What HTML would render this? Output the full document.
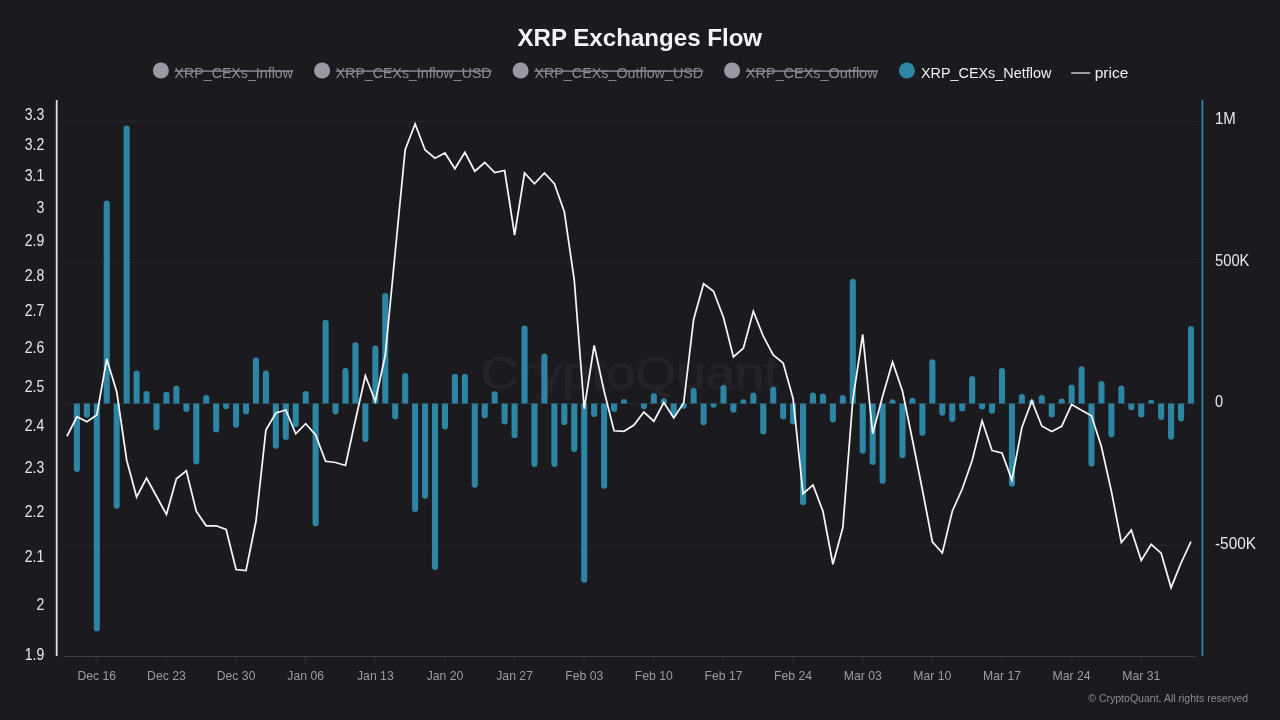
<!DOCTYPE html><html><head><meta charset="utf-8"><style>html,body{margin:0;padding:0;background:#1b1a1f;width:1280px;height:720px;overflow:hidden}</style></head><body><svg width="1280" height="720" viewBox="0 0 1280 720" style="display:block;will-change:transform">
<rect width="1280" height="720" fill="#1b1a1f"/>
<text x="517.5" y="45.7" font-family="'Liberation Sans', sans-serif" font-weight="bold" font-size="24" fill="#f4f4f6" textLength="244.6" lengthAdjust="spacingAndGlyphs">XRP Exchanges Flow</text>
<circle cx="160.9" cy="70.5" r="8" fill="#9a99a3"/>
<text x="174.5" y="77.6" font-family="'Liberation Sans', sans-serif" font-size="15.2" fill="#8d8c96" textLength="118.5" lengthAdjust="spacingAndGlyphs">XRP_CEXs_Inflow</text>
<rect x="174.5" y="70.4" width="118.5" height="1.4" fill="#8d8c96"/>
<circle cx="322.1" cy="70.5" r="8" fill="#9a99a3"/>
<text x="335.8" y="77.6" font-family="'Liberation Sans', sans-serif" font-size="15.2" fill="#8d8c96" textLength="155.8" lengthAdjust="spacingAndGlyphs">XRP_CEXs_Inflow_USD</text>
<rect x="335.8" y="70.4" width="155.8" height="1.4" fill="#8d8c96"/>
<circle cx="520.6" cy="70.5" r="8" fill="#9a99a3"/>
<text x="534.4" y="77.6" font-family="'Liberation Sans', sans-serif" font-size="15.2" fill="#8d8c96" textLength="168.8" lengthAdjust="spacingAndGlyphs">XRP_CEXs_Outflow_USD</text>
<rect x="534.4" y="70.4" width="168.8" height="1.4" fill="#8d8c96"/>
<circle cx="732.1" cy="70.5" r="8" fill="#9a99a3"/>
<text x="745.8" y="77.6" font-family="'Liberation Sans', sans-serif" font-size="15.2" fill="#8d8c96" textLength="131.8" lengthAdjust="spacingAndGlyphs">XRP_CEXs_Outflow</text>
<rect x="745.8" y="70.4" width="131.8" height="1.4" fill="#8d8c96"/>
<circle cx="906.9" cy="70.5" r="8" fill="#2c85a3"/>
<text x="920.9" y="77.6" font-family="'Liberation Sans', sans-serif" font-size="15.2" fill="#f0f0f2" textLength="130.4" lengthAdjust="spacingAndGlyphs">XRP_CEXs_Netflow</text>
<rect x="1071.2" y="72.4" width="19" height="1.2" fill="#f0f0f2"/>
<text x="1094.7" y="77.6" font-family="'Liberation Sans', sans-serif" font-size="15.2" fill="#f0f0f2" textLength="33.6" lengthAdjust="spacingAndGlyphs">price</text>
<text x="480.5" y="388.8" font-family="'Liberation Sans', sans-serif" font-size="46" fill="#242329" stroke="#242329" stroke-width="1.2" textLength="298" lengthAdjust="spacingAndGlyphs">CryptoQuant</text>
<rect x="63" y="121.0" width="1133" height="1" fill="#27262c"/>
<rect x="63" y="262.0" width="1133" height="1" fill="#27262c"/>
<rect x="63" y="403.0" width="1133" height="1" fill="#27262c"/>
<rect x="63" y="544.7" width="1133" height="1" fill="#27262c"/>
<path d="M73.87,403.5 L73.87,469.00 A3.05,3.05 0 0 0 79.97,469.00 L79.97,403.5 Z" fill="#2c85a3"/>
<path d="M83.82,403.5 L83.82,414.75 A3.05,3.05 0 0 0 89.92,414.75 L89.92,403.5 Z" fill="#2c85a3"/>
<path d="M93.76,403.5 L93.76,628.50 A3.05,3.05 0 0 0 99.86,628.50 L99.86,403.5 Z" fill="#2c85a3"/>
<path d="M103.71,403.5 L103.71,203.50 A3.05,3.05 0 0 1 109.81,203.50 L109.81,403.5 Z" fill="#2c85a3"/>
<path d="M113.66,403.5 L113.66,505.75 A3.05,3.05 0 0 0 119.76,505.75 L119.76,403.5 Z" fill="#2c85a3"/>
<path d="M123.61,403.5 L123.61,128.50 A3.05,3.05 0 0 1 129.71,128.50 L129.71,403.5 Z" fill="#2c85a3"/>
<path d="M133.55,403.5 L133.55,373.50 A3.05,3.05 0 0 1 139.65,373.50 L139.65,403.5 Z" fill="#2c85a3"/>
<path d="M143.50,403.5 L143.50,394.00 A3.05,3.05 0 0 1 149.60,394.00 L149.60,403.5 Z" fill="#2c85a3"/>
<path d="M153.45,403.5 L153.45,427.25 A3.05,3.05 0 0 0 159.55,427.25 L159.55,403.5 Z" fill="#2c85a3"/>
<path d="M163.39,403.5 L163.39,394.75 A3.05,3.05 0 0 1 169.49,394.75 L169.49,403.5 Z" fill="#2c85a3"/>
<path d="M173.34,403.5 L173.34,388.50 A3.05,3.05 0 0 1 179.44,388.50 L179.44,403.5 Z" fill="#2c85a3"/>
<path d="M183.29,403.5 L183.29,409.00 A3.05,3.05 0 0 0 189.39,409.00 L189.39,403.5 Z" fill="#2c85a3"/>
<path d="M193.23,403.5 L193.23,461.50 A3.05,3.05 0 0 0 199.33,461.50 L199.33,403.5 Z" fill="#2c85a3"/>
<path d="M203.18,403.5 L203.18,398.00 A3.05,3.05 0 0 1 209.28,398.00 L209.28,403.5 Z" fill="#2c85a3"/>
<path d="M213.13,403.5 L213.13,429.50 A3.05,3.05 0 0 0 219.23,429.50 L219.23,403.5 Z" fill="#2c85a3"/>
<path d="M223.08,403.5 L223.08,406.15 A2.65,2.65 0 0 0 229.18,406.15 L229.18,403.5 Z" fill="#2c85a3"/>
<path d="M233.02,403.5 L233.02,424.75 A3.05,3.05 0 0 0 239.12,424.75 L239.12,403.5 Z" fill="#2c85a3"/>
<path d="M242.97,403.5 L242.97,411.50 A3.05,3.05 0 0 0 249.07,411.50 L249.07,403.5 Z" fill="#2c85a3"/>
<path d="M252.92,403.5 L252.92,360.50 A3.05,3.05 0 0 1 259.02,360.50 L259.02,403.5 Z" fill="#2c85a3"/>
<path d="M262.86,403.5 L262.86,373.50 A3.05,3.05 0 0 1 268.96,373.50 L268.96,403.5 Z" fill="#2c85a3"/>
<path d="M272.81,403.5 L272.81,445.75 A3.05,3.05 0 0 0 278.91,445.75 L278.91,403.5 Z" fill="#2c85a3"/>
<path d="M282.76,403.5 L282.76,437.00 A3.05,3.05 0 0 0 288.86,437.00 L288.86,403.5 Z" fill="#2c85a3"/>
<path d="M292.70,403.5 L292.70,424.00 A3.05,3.05 0 0 0 298.80,424.00 L298.80,403.5 Z" fill="#2c85a3"/>
<path d="M302.65,403.5 L302.65,394.00 A3.05,3.05 0 0 1 308.75,394.00 L308.75,403.5 Z" fill="#2c85a3"/>
<path d="M312.60,403.5 L312.60,523.25 A3.05,3.05 0 0 0 318.70,523.25 L318.70,403.5 Z" fill="#2c85a3"/>
<path d="M322.55,403.5 L322.55,322.75 A3.05,3.05 0 0 1 328.65,322.75 L328.65,403.5 Z" fill="#2c85a3"/>
<path d="M332.49,403.5 L332.49,411.50 A3.05,3.05 0 0 0 338.59,411.50 L338.59,403.5 Z" fill="#2c85a3"/>
<path d="M342.44,403.5 L342.44,371.00 A3.05,3.05 0 0 1 348.54,371.00 L348.54,403.5 Z" fill="#2c85a3"/>
<path d="M352.39,403.5 L352.39,345.25 A3.05,3.05 0 0 1 358.49,345.25 L358.49,403.5 Z" fill="#2c85a3"/>
<path d="M362.33,403.5 L362.33,439.00 A3.05,3.05 0 0 0 368.43,439.00 L368.43,403.5 Z" fill="#2c85a3"/>
<path d="M372.28,403.5 L372.28,348.50 A3.05,3.05 0 0 1 378.38,348.50 L378.38,403.5 Z" fill="#2c85a3"/>
<path d="M382.23,403.5 L382.23,296.00 A3.05,3.05 0 0 1 388.33,296.00 L388.33,403.5 Z" fill="#2c85a3"/>
<path d="M392.17,403.5 L392.17,416.50 A3.05,3.05 0 0 0 398.27,416.50 L398.27,403.5 Z" fill="#2c85a3"/>
<path d="M402.12,403.5 L402.12,376.00 A3.05,3.05 0 0 1 408.22,376.00 L408.22,403.5 Z" fill="#2c85a3"/>
<path d="M412.07,403.5 L412.07,509.00 A3.05,3.05 0 0 0 418.17,509.00 L418.17,403.5 Z" fill="#2c85a3"/>
<path d="M422.02,403.5 L422.02,495.75 A3.05,3.05 0 0 0 428.12,495.75 L428.12,403.5 Z" fill="#2c85a3"/>
<path d="M431.96,403.5 L431.96,567.00 A3.05,3.05 0 0 0 438.06,567.00 L438.06,403.5 Z" fill="#2c85a3"/>
<path d="M441.91,403.5 L441.91,426.50 A3.05,3.05 0 0 0 448.01,426.50 L448.01,403.5 Z" fill="#2c85a3"/>
<path d="M451.86,403.5 L451.86,376.75 A3.05,3.05 0 0 1 457.96,376.75 L457.96,403.5 Z" fill="#2c85a3"/>
<path d="M461.80,403.5 L461.80,376.75 A3.05,3.05 0 0 1 467.90,376.75 L467.90,403.5 Z" fill="#2c85a3"/>
<path d="M471.75,403.5 L471.75,484.75 A3.05,3.05 0 0 0 477.85,484.75 L477.85,403.5 Z" fill="#2c85a3"/>
<path d="M481.70,403.5 L481.70,415.25 A3.05,3.05 0 0 0 487.80,415.25 L487.80,403.5 Z" fill="#2c85a3"/>
<path d="M491.64,403.5 L491.64,394.25 A3.05,3.05 0 0 1 497.74,394.25 L497.74,403.5 Z" fill="#2c85a3"/>
<path d="M501.59,403.5 L501.59,421.50 A3.05,3.05 0 0 0 507.69,421.50 L507.69,403.5 Z" fill="#2c85a3"/>
<path d="M511.54,403.5 L511.54,435.25 A3.05,3.05 0 0 0 517.64,435.25 L517.64,403.5 Z" fill="#2c85a3"/>
<path d="M521.49,403.5 L521.49,328.50 A3.05,3.05 0 0 1 527.59,328.50 L527.59,403.5 Z" fill="#2c85a3"/>
<path d="M531.43,403.5 L531.43,464.00 A3.05,3.05 0 0 0 537.53,464.00 L537.53,403.5 Z" fill="#2c85a3"/>
<path d="M541.38,403.5 L541.38,356.50 A3.05,3.05 0 0 1 547.48,356.50 L547.48,403.5 Z" fill="#2c85a3"/>
<path d="M551.33,403.5 L551.33,464.00 A3.05,3.05 0 0 0 557.43,464.00 L557.43,403.5 Z" fill="#2c85a3"/>
<path d="M561.27,403.5 L561.27,422.25 A3.05,3.05 0 0 0 567.37,422.25 L567.37,403.5 Z" fill="#2c85a3"/>
<path d="M571.22,403.5 L571.22,449.00 A3.05,3.05 0 0 0 577.32,449.00 L577.32,403.5 Z" fill="#2c85a3"/>
<path d="M581.17,403.5 L581.17,579.75 A3.05,3.05 0 0 0 587.27,579.75 L587.27,403.5 Z" fill="#2c85a3"/>
<path d="M591.11,403.5 L591.11,414.00 A3.05,3.05 0 0 0 597.21,414.00 L597.21,403.5 Z" fill="#2c85a3"/>
<path d="M601.06,403.5 L601.06,485.75 A3.05,3.05 0 0 0 607.16,485.75 L607.16,403.5 Z" fill="#2c85a3"/>
<path d="M611.01,403.5 L611.01,409.00 A3.05,3.05 0 0 0 617.11,409.00 L617.11,403.5 Z" fill="#2c85a3"/>
<path d="M620.96,403.5 L620.96,401.98 A1.53,1.53 0 0 1 627.06,401.98 L627.06,403.5 Z" fill="#2c85a3"/>
<path d="M640.85,403.5 L640.85,406.15 A2.65,2.65 0 0 0 646.95,406.15 L646.95,403.5 Z" fill="#2c85a3"/>
<path d="M650.80,403.5 L650.80,396.00 A3.05,3.05 0 0 1 656.90,396.00 L656.90,403.5 Z" fill="#2c85a3"/>
<path d="M660.74,403.5 L660.74,401.35 A2.15,2.15 0 0 1 666.84,401.35 L666.84,403.5 Z" fill="#2c85a3"/>
<path d="M670.69,403.5 L670.69,414.00 A3.05,3.05 0 0 0 676.79,414.00 L676.79,403.5 Z" fill="#2c85a3"/>
<path d="M680.64,403.5 L680.64,405.65 A2.15,2.15 0 0 0 686.74,405.65 L686.74,403.5 Z" fill="#2c85a3"/>
<path d="M690.58,403.5 L690.58,391.00 A3.05,3.05 0 0 1 696.68,391.00 L696.68,403.5 Z" fill="#2c85a3"/>
<path d="M700.53,403.5 L700.53,422.25 A3.05,3.05 0 0 0 706.63,422.25 L706.63,403.5 Z" fill="#2c85a3"/>
<path d="M710.48,403.5 L710.48,404.65 A1.15,1.15 0 0 0 716.58,404.65 L716.58,403.5 Z" fill="#2c85a3"/>
<path d="M720.43,403.5 L720.43,388.00 A3.05,3.05 0 0 1 726.53,388.00 L726.53,403.5 Z" fill="#2c85a3"/>
<path d="M730.37,403.5 L730.37,409.75 A3.05,3.05 0 0 0 736.47,409.75 L736.47,403.5 Z" fill="#2c85a3"/>
<path d="M740.32,403.5 L740.32,402.25 A1.25,1.25 0 0 1 746.42,402.25 L746.42,403.5 Z" fill="#2c85a3"/>
<path d="M750.27,403.5 L750.27,395.50 A3.05,3.05 0 0 1 756.37,395.50 L756.37,403.5 Z" fill="#2c85a3"/>
<path d="M760.21,403.5 L760.21,431.50 A3.05,3.05 0 0 0 766.31,431.50 L766.31,403.5 Z" fill="#2c85a3"/>
<path d="M770.16,403.5 L770.16,389.75 A3.05,3.05 0 0 1 776.26,389.75 L776.26,403.5 Z" fill="#2c85a3"/>
<path d="M780.11,403.5 L780.11,416.50 A3.05,3.05 0 0 0 786.21,416.50 L786.21,403.5 Z" fill="#2c85a3"/>
<path d="M790.05,403.5 L790.05,421.50 A3.05,3.05 0 0 0 796.15,421.50 L796.15,403.5 Z" fill="#2c85a3"/>
<path d="M800.00,403.5 L800.00,502.25 A3.05,3.05 0 0 0 806.10,502.25 L806.10,403.5 Z" fill="#2c85a3"/>
<path d="M809.95,403.5 L809.95,395.50 A3.05,3.05 0 0 1 816.05,395.50 L816.05,403.5 Z" fill="#2c85a3"/>
<path d="M819.90,403.5 L819.90,396.50 A3.05,3.05 0 0 1 826.00,396.50 L826.00,403.5 Z" fill="#2c85a3"/>
<path d="M829.84,403.5 L829.84,419.50 A3.05,3.05 0 0 0 835.94,419.50 L835.94,403.5 Z" fill="#2c85a3"/>
<path d="M839.79,403.5 L839.79,398.00 A3.05,3.05 0 0 1 845.89,398.00 L845.89,403.5 Z" fill="#2c85a3"/>
<path d="M849.74,403.5 L849.74,281.75 A3.05,3.05 0 0 1 855.84,281.75 L855.84,403.5 Z" fill="#2c85a3"/>
<path d="M859.68,403.5 L859.68,450.75 A3.05,3.05 0 0 0 865.78,450.75 L865.78,403.5 Z" fill="#2c85a3"/>
<path d="M869.63,403.5 L869.63,462.00 A3.05,3.05 0 0 0 875.73,462.00 L875.73,403.5 Z" fill="#2c85a3"/>
<path d="M879.58,403.5 L879.58,480.75 A3.05,3.05 0 0 0 885.68,480.75 L885.68,403.5 Z" fill="#2c85a3"/>
<path d="M889.52,403.5 L889.52,402.23 A1.28,1.28 0 0 1 895.62,402.23 L895.62,403.5 Z" fill="#2c85a3"/>
<path d="M899.47,403.5 L899.47,455.25 A3.05,3.05 0 0 0 905.57,455.25 L905.57,403.5 Z" fill="#2c85a3"/>
<path d="M909.42,403.5 L909.42,400.73 A2.78,2.78 0 0 1 915.52,400.73 L915.52,403.5 Z" fill="#2c85a3"/>
<path d="M919.37,403.5 L919.37,432.75 A3.05,3.05 0 0 0 925.47,432.75 L925.47,403.5 Z" fill="#2c85a3"/>
<path d="M929.31,403.5 L929.31,362.25 A3.05,3.05 0 0 1 935.41,362.25 L935.41,403.5 Z" fill="#2c85a3"/>
<path d="M939.26,403.5 L939.26,412.75 A3.05,3.05 0 0 0 945.36,412.75 L945.36,403.5 Z" fill="#2c85a3"/>
<path d="M949.21,403.5 L949.21,419.00 A3.05,3.05 0 0 0 955.31,419.00 L955.31,403.5 Z" fill="#2c85a3"/>
<path d="M959.15,403.5 L959.15,408.45 A3.05,3.05 0 0 0 965.25,408.45 L965.25,403.5 Z" fill="#2c85a3"/>
<path d="M969.10,403.5 L969.10,379.05 A3.05,3.05 0 0 1 975.20,379.05 L975.20,403.5 Z" fill="#2c85a3"/>
<path d="M979.05,403.5 L979.05,406.55 A3.05,3.05 0 0 0 985.15,406.55 L985.15,403.5 Z" fill="#2c85a3"/>
<path d="M988.99,403.5 L988.99,410.65 A3.05,3.05 0 0 0 995.09,410.65 L995.09,403.5 Z" fill="#2c85a3"/>
<path d="M998.94,403.5 L998.94,371.05 A3.05,3.05 0 0 1 1005.04,371.05 L1005.04,403.5 Z" fill="#2c85a3"/>
<path d="M1008.89,403.5 L1008.89,483.75 A3.05,3.05 0 0 0 1014.99,483.75 L1014.99,403.5 Z" fill="#2c85a3"/>
<path d="M1018.84,403.5 L1018.84,397.15 A3.05,3.05 0 0 1 1024.94,397.15 L1024.94,403.5 Z" fill="#2c85a3"/>
<path d="M1028.78,403.5 L1028.78,402.55 A0.95,0.95 0 0 1 1034.88,402.55 L1034.88,403.5 Z" fill="#2c85a3"/>
<path d="M1038.73,403.5 L1038.73,398.15 A3.05,3.05 0 0 1 1044.83,398.15 L1044.83,403.5 Z" fill="#2c85a3"/>
<path d="M1048.68,403.5 L1048.68,414.45 A3.05,3.05 0 0 0 1054.78,414.45 L1054.78,403.5 Z" fill="#2c85a3"/>
<path d="M1058.62,403.5 L1058.62,401.65 A1.85,1.85 0 0 1 1064.72,401.65 L1064.72,403.5 Z" fill="#2c85a3"/>
<path d="M1068.57,403.5 L1068.57,387.65 A3.05,3.05 0 0 1 1074.67,387.65 L1074.67,403.5 Z" fill="#2c85a3"/>
<path d="M1078.52,403.5 L1078.52,369.35 A3.05,3.05 0 0 1 1084.62,369.35 L1084.62,403.5 Z" fill="#2c85a3"/>
<path d="M1088.46,403.5 L1088.46,463.75 A3.05,3.05 0 0 0 1094.56,463.75 L1094.56,403.5 Z" fill="#2c85a3"/>
<path d="M1098.41,403.5 L1098.41,383.95 A3.05,3.05 0 0 1 1104.51,383.95 L1104.51,403.5 Z" fill="#2c85a3"/>
<path d="M1108.36,403.5 L1108.36,434.35 A3.05,3.05 0 0 0 1114.46,434.35 L1114.46,403.5 Z" fill="#2c85a3"/>
<path d="M1118.31,403.5 L1118.31,388.45 A3.05,3.05 0 0 1 1124.41,388.45 L1124.41,403.5 Z" fill="#2c85a3"/>
<path d="M1128.25,403.5 L1128.25,407.15 A3.05,3.05 0 0 0 1134.35,407.15 L1134.35,403.5 Z" fill="#2c85a3"/>
<path d="M1138.20,403.5 L1138.20,414.45 A3.05,3.05 0 0 0 1144.30,414.45 L1144.30,403.5 Z" fill="#2c85a3"/>
<path d="M1148.15,403.5 L1148.15,402.80 A0.70,0.70 0 0 1 1154.25,402.80 L1154.25,403.5 Z" fill="#2c85a3"/>
<path d="M1158.09,403.5 L1158.09,417.05 A3.05,3.05 0 0 0 1164.19,417.05 L1164.19,403.5 Z" fill="#2c85a3"/>
<path d="M1168.04,403.5 L1168.04,436.75 A3.05,3.05 0 0 0 1174.14,436.75 L1174.14,403.5 Z" fill="#2c85a3"/>
<path d="M1177.99,403.5 L1177.99,418.45 A3.05,3.05 0 0 0 1184.09,418.45 L1184.09,403.5 Z" fill="#2c85a3"/>
<path d="M1187.93,403.5 L1187.93,329.15 A3.05,3.05 0 0 1 1194.03,329.15 L1194.03,403.5 Z" fill="#2c85a3"/>
<polyline points="66.97,436.25 76.92,416.75 86.87,421.75 96.81,415.00 106.76,359.00 116.71,391.75 126.66,460.00 136.60,497.00 146.55,478.00 156.50,496.25 166.44,514.50 176.39,478.75 186.34,470.75 196.28,511.25 206.23,525.75 216.18,525.75 226.13,529.50 236.07,569.50 246.02,570.50 255.97,521.25 265.91,430.00 275.86,413.00 285.81,410.00 295.75,433.75 305.70,423.75 315.65,435.00 325.60,461.25 335.54,462.50 345.49,465.50 355.44,420.00 365.38,375.75 375.33,401.25 385.28,355.00 395.22,252.00 405.17,149.75 415.12,124.00 425.07,150.00 435.01,158.25 444.96,153.00 454.91,168.75 464.85,152.25 474.80,171.25 484.75,162.50 494.69,172.50 504.64,170.50 514.59,235.00 524.54,173.00 534.48,183.75 544.43,173.00 554.38,183.75 564.32,211.75 574.27,280.00 584.22,408.75 594.16,345.50 604.11,391.25 614.06,430.75 624.01,431.25 633.95,425.00 643.90,412.00 653.85,421.25 663.79,402.50 673.74,418.00 683.69,403.00 693.63,319.50 703.58,283.75 713.53,291.25 723.48,317.50 733.42,357.00 743.37,348.25 753.32,311.25 763.26,336.25 773.21,355.00 783.16,363.00 793.10,398.75 803.05,493.75 813.00,485.00 822.95,511.25 832.89,564.25 842.84,527.50 852.79,400.00 862.73,334.50 872.68,433.75 882.63,396.25 892.57,362.00 902.52,391.25 912.47,440.00 922.42,490.00 932.36,541.75 942.31,553.00 952.26,511.25 962.20,489.00 972.15,460.50 982.10,420.80 992.04,450.50 1001.99,453.00 1011.94,480.10 1021.89,427.40 1031.83,401.00 1041.78,426.00 1051.73,431.50 1061.67,426.40 1071.62,404.50 1081.57,410.20 1091.51,415.80 1101.46,446.70 1111.41,491.40 1121.36,542.50 1131.30,530.10 1141.25,560.50 1151.20,544.30 1161.14,553.20 1171.09,587.70 1181.04,563.00 1190.98,541.60" fill="none" stroke="#f6f6f8" stroke-width="1.75" stroke-linejoin="miter" stroke-miterlimit="4"/>
<rect x="55.8" y="100" width="1.8" height="556" fill="#dedde2"/>
<rect x="1201.5" y="100" width="1.8" height="556" fill="#2b88a7"/>
<rect x="63" y="656" width="1133" height="1" fill="#3e3d46"/>
<rect x="95.61" y="657" width="2" height="7" fill="#25242a"/>
<text transform="translate(96.81,680) scale(0.94,1)" font-family="'Liberation Sans', sans-serif" font-size="13" fill="#9c9ba5" text-anchor="middle">Dec 16</text>
<rect x="165.24" y="657" width="2" height="7" fill="#25242a"/>
<text transform="translate(166.44,680) scale(0.94,1)" font-family="'Liberation Sans', sans-serif" font-size="13" fill="#9c9ba5" text-anchor="middle">Dec 23</text>
<rect x="234.87" y="657" width="2" height="7" fill="#25242a"/>
<text transform="translate(236.07,680) scale(0.94,1)" font-family="'Liberation Sans', sans-serif" font-size="13" fill="#9c9ba5" text-anchor="middle">Dec 30</text>
<rect x="304.50" y="657" width="2" height="7" fill="#25242a"/>
<text transform="translate(305.70,680) scale(0.94,1)" font-family="'Liberation Sans', sans-serif" font-size="13" fill="#9c9ba5" text-anchor="middle">Jan 06</text>
<rect x="374.13" y="657" width="2" height="7" fill="#25242a"/>
<text transform="translate(375.33,680) scale(0.94,1)" font-family="'Liberation Sans', sans-serif" font-size="13" fill="#9c9ba5" text-anchor="middle">Jan 13</text>
<rect x="443.76" y="657" width="2" height="7" fill="#25242a"/>
<text transform="translate(444.96,680) scale(0.94,1)" font-family="'Liberation Sans', sans-serif" font-size="13" fill="#9c9ba5" text-anchor="middle">Jan 20</text>
<rect x="513.39" y="657" width="2" height="7" fill="#25242a"/>
<text transform="translate(514.59,680) scale(0.94,1)" font-family="'Liberation Sans', sans-serif" font-size="13" fill="#9c9ba5" text-anchor="middle">Jan 27</text>
<rect x="583.02" y="657" width="2" height="7" fill="#25242a"/>
<text transform="translate(584.22,680) scale(0.94,1)" font-family="'Liberation Sans', sans-serif" font-size="13" fill="#9c9ba5" text-anchor="middle">Feb 03</text>
<rect x="652.65" y="657" width="2" height="7" fill="#25242a"/>
<text transform="translate(653.85,680) scale(0.94,1)" font-family="'Liberation Sans', sans-serif" font-size="13" fill="#9c9ba5" text-anchor="middle">Feb 10</text>
<rect x="722.28" y="657" width="2" height="7" fill="#25242a"/>
<text transform="translate(723.48,680) scale(0.94,1)" font-family="'Liberation Sans', sans-serif" font-size="13" fill="#9c9ba5" text-anchor="middle">Feb 17</text>
<rect x="791.90" y="657" width="2" height="7" fill="#25242a"/>
<text transform="translate(793.10,680) scale(0.94,1)" font-family="'Liberation Sans', sans-serif" font-size="13" fill="#9c9ba5" text-anchor="middle">Feb 24</text>
<rect x="861.53" y="657" width="2" height="7" fill="#25242a"/>
<text transform="translate(862.73,680) scale(0.94,1)" font-family="'Liberation Sans', sans-serif" font-size="13" fill="#9c9ba5" text-anchor="middle">Mar 03</text>
<rect x="931.16" y="657" width="2" height="7" fill="#25242a"/>
<text transform="translate(932.36,680) scale(0.94,1)" font-family="'Liberation Sans', sans-serif" font-size="13" fill="#9c9ba5" text-anchor="middle">Mar 10</text>
<rect x="1000.79" y="657" width="2" height="7" fill="#25242a"/>
<text transform="translate(1001.99,680) scale(0.94,1)" font-family="'Liberation Sans', sans-serif" font-size="13" fill="#9c9ba5" text-anchor="middle">Mar 17</text>
<rect x="1070.42" y="657" width="2" height="7" fill="#25242a"/>
<text transform="translate(1071.62,680) scale(0.94,1)" font-family="'Liberation Sans', sans-serif" font-size="13" fill="#9c9ba5" text-anchor="middle">Mar 24</text>
<rect x="1140.05" y="657" width="2" height="7" fill="#25242a"/>
<text transform="translate(1141.25,680) scale(0.94,1)" font-family="'Liberation Sans', sans-serif" font-size="13" fill="#9c9ba5" text-anchor="middle">Mar 31</text>
<text transform="translate(44.2,119.72) scale(0.89,1)" font-family="'Liberation Sans', sans-serif" font-size="15.8" fill="#e8e8ec" text-anchor="end">3.3</text>
<text transform="translate(44.2,149.85) scale(0.89,1)" font-family="'Liberation Sans', sans-serif" font-size="15.8" fill="#e8e8ec" text-anchor="end">3.2</text>
<text transform="translate(44.2,180.93) scale(0.89,1)" font-family="'Liberation Sans', sans-serif" font-size="15.8" fill="#e8e8ec" text-anchor="end">3.1</text>
<text transform="translate(44.2,213.03) scale(0.89,1)" font-family="'Liberation Sans', sans-serif" font-size="15.8" fill="#e8e8ec" text-anchor="end">3</text>
<text transform="translate(44.2,246.22) scale(0.89,1)" font-family="'Liberation Sans', sans-serif" font-size="15.8" fill="#e8e8ec" text-anchor="end">2.9</text>
<text transform="translate(44.2,280.58) scale(0.89,1)" font-family="'Liberation Sans', sans-serif" font-size="15.8" fill="#e8e8ec" text-anchor="end">2.8</text>
<text transform="translate(44.2,316.18) scale(0.89,1)" font-family="'Liberation Sans', sans-serif" font-size="15.8" fill="#e8e8ec" text-anchor="end">2.7</text>
<text transform="translate(44.2,353.13) scale(0.89,1)" font-family="'Liberation Sans', sans-serif" font-size="15.8" fill="#e8e8ec" text-anchor="end">2.6</text>
<text transform="translate(44.2,391.53) scale(0.89,1)" font-family="'Liberation Sans', sans-serif" font-size="15.8" fill="#e8e8ec" text-anchor="end">2.5</text>
<text transform="translate(44.2,431.49) scale(0.89,1)" font-family="'Liberation Sans', sans-serif" font-size="15.8" fill="#e8e8ec" text-anchor="end">2.4</text>
<text transform="translate(44.2,473.16) scale(0.89,1)" font-family="'Liberation Sans', sans-serif" font-size="15.8" fill="#e8e8ec" text-anchor="end">2.3</text>
<text transform="translate(44.2,516.68) scale(0.89,1)" font-family="'Liberation Sans', sans-serif" font-size="15.8" fill="#e8e8ec" text-anchor="end">2.2</text>
<text transform="translate(44.2,562.22) scale(0.89,1)" font-family="'Liberation Sans', sans-serif" font-size="15.8" fill="#e8e8ec" text-anchor="end">2.1</text>
<text transform="translate(44.2,609.98) scale(0.89,1)" font-family="'Liberation Sans', sans-serif" font-size="15.8" fill="#e8e8ec" text-anchor="end">2</text>
<text transform="translate(44.2,660.20) scale(0.89,1)" font-family="'Liberation Sans', sans-serif" font-size="15.8" fill="#e8e8ec" text-anchor="end">1.9</text>
<text x="1215" y="124.20" font-family="'Liberation Sans', sans-serif" font-size="15.8" fill="#e8e8ec" textLength="20.8" lengthAdjust="spacingAndGlyphs">1M</text>
<text x="1215" y="265.75" font-family="'Liberation Sans', sans-serif" font-size="15.8" fill="#e8e8ec" textLength="34.4" lengthAdjust="spacingAndGlyphs">500K</text>
<text x="1215" y="407.40" font-family="'Liberation Sans', sans-serif" font-size="15.8" fill="#e8e8ec" textLength="8.1" lengthAdjust="spacingAndGlyphs">0</text>
<text x="1215" y="549.10" font-family="'Liberation Sans', sans-serif" font-size="15.8" fill="#e8e8ec" textLength="41" lengthAdjust="spacingAndGlyphs">-500K</text>
<text x="1088.2" y="702.2" font-family="'Liberation Sans', sans-serif" font-size="11" fill="#8a8a94" textLength="160" lengthAdjust="spacingAndGlyphs">© CryptoQuant. All rights reserved</text>
</svg></body></html>
